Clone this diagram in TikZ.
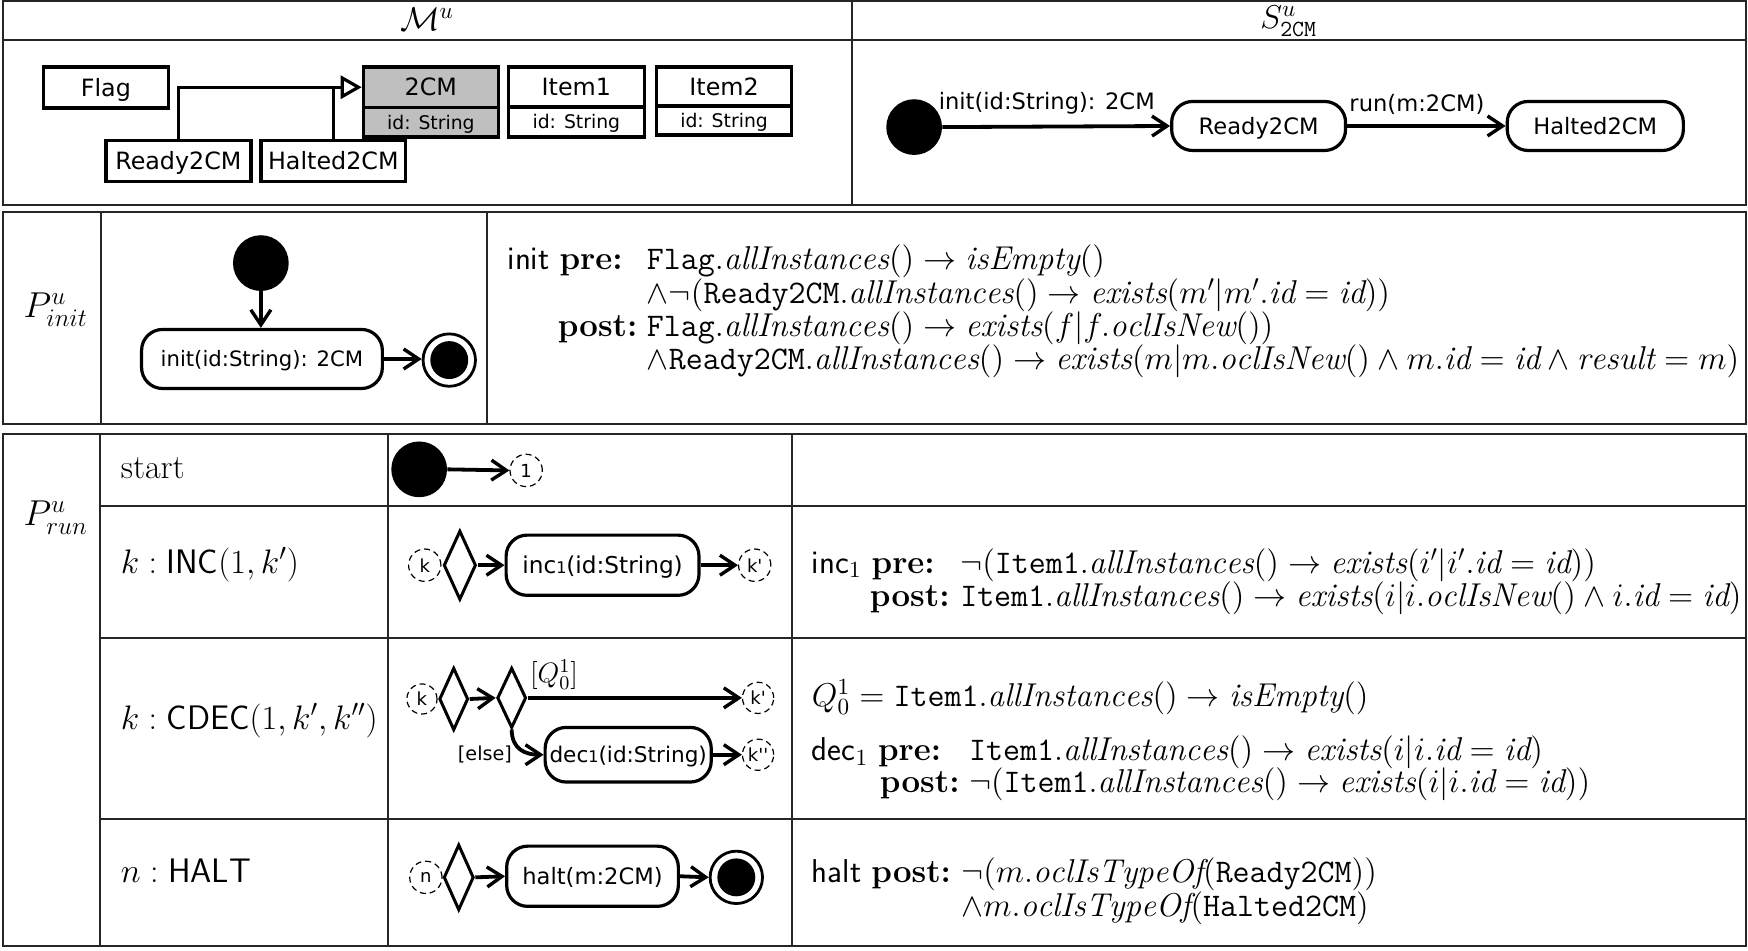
\RequirePackage{fix-cm}
\documentclass[tikz,border=0pt]{standalone}
\usepackage{fontspec}
\usetikzlibrary{arrows.meta,shapes.geometric}
\newfontfamily\lab{DejaVu Sans}
\def\uu{0.5574pt}
\newcommand{\ai}{\mathit{allInstances}()}
\newcommand{\mtt}[1]{\mathtt{#1}}
\newcommand{\ex}{\mathit{exists}}
\newcommand{\idd}{\mathit{id}}
\newcommand{\ssmall}[1]{{\fontsize{8}{8}\selectfont #1}}
\tikzset{
  grid/.style={draw=black!85,line width=1pt},
  mathtxt/.style={anchor=base west,inner sep=0pt,font=\fontsize{16.5}{20}\selectfont},
  lefttxt/.style={anchor=base west,inner sep=0pt,font=\fontsize{17}{20}\selectfont},
  mathmid/.style={anchor=center,inner sep=0pt,font=\fontsize{16.5}{20}\selectfont},
  rowname/.style={anchor=center,inner sep=0pt,font=\fontsize{18}{21}\selectfont},
  umlbox/.style={draw=black,line width=1.7pt,fill=white,inner sep=0pt,text height=8.6pt,text depth=0pt,font=\lab\fontsize{11.9}{14}\selectfont},
  attr/.style={umlbox,text height=6.9pt,font=\lab\fontsize{9.4}{12}\selectfont},
  statebox/.style={draw=black,line width=1.6pt,fill=white,rounded corners=10.5pt,inner sep=0pt,text height=8.2pt,text depth=0pt,font=\lab\fontsize{11.3}{14}\selectfont},
  startdot/.style={circle,fill=black,draw=none,inner sep=0pt,minimum size=50*\uu},
  finout/.style={circle,draw=black,line width=1.4pt,fill=white,inner sep=0pt,minimum size=47*\uu},
  finin/.style={circle,fill=black,inner sep=0pt,minimum size=34*\uu},
  ref/.style={circle,draw=black,densely dashed,line width=0.6pt,inner sep=0pt,minimum size=29*\uu,font=\lab\fontsize{9}{11}\selectfont},
  choice/.style={diamond,draw=black,line width=1.5pt,fill=white,inner sep=0pt,aspect=0.5},
  flow/.style={draw=black,line width=1.9pt,-{Straight Barb[length=7.5pt,width=10pt,line width=1.7pt]}},
  gen/.style={draw=black,line width=1.7pt},
  gentip/.style={gen,-{Triangle[open,length=10.5pt,width=11.5pt,line width=1.6pt]}},
  lbl/.style={inner sep=0pt,font=\lab\fontsize{11.3}{14}\selectfont},
  lblsm/.style={inner sep=0pt,font=\lab\fontsize{9.6}{11}\selectfont},
}
\begin{document}
\begin{tikzpicture}[x=\uu,y=-\uu]
\useasboundingbox (0,0) rectangle (1568,853);
% tables
\draw[grid] (3,1) rectangle (1566,184);
\draw[grid] (3,36) -- (1566,36);
\draw[grid] (764,1) -- (764,184);
\draw[grid] (3,190) rectangle (1566,380);
\draw[grid] (91,190) -- (91,380);
\draw[grid] (437,190) -- (437,380);
\draw[grid] (3,389) rectangle (1566,849);
\draw[grid] (90,389) -- (90,849);
\draw[grid] (348,389) -- (348,849);
\draw[grid] (710,389) -- (710,849);
\draw[grid] (90,454) -- (1566,454);
\draw[grid] (90,572) -- (1566,572);
\draw[grid] (90,735) -- (1566,735);
% headers
\node[mathmid] (hm) at (383,17) {$\mathcal{M}^u$};
\node[mathmid] (hs) at (1156,19) {$S^u_{\mathtt{2CM}}$};
% class diagram
\node[umlbox,minimum width=112*\uu,minimum height=37*\uu] (flag) at (95,78.5) {Flag};
\node[umlbox,fill=black!25,minimum width=121*\uu,minimum height=36.5*\uu] (cm) at (386.5,78.25) {2CM};
\node[attr,fill=black!25,minimum width=121*\uu,minimum height=26.5*\uu] (cma) at (386.5,109.75) {id: String};
\node[umlbox,minimum width=122*\uu,minimum height=36*\uu] (it1) at (517,78) {Item1};
\node[attr,minimum width=122*\uu,minimum height=27*\uu] (it1a) at (517,109.5) {id: String};
\node[umlbox,minimum width=121*\uu,minimum height=35*\uu] (it2) at (649.5,77.5) {Item2};
\node[attr,minimum width=121*\uu,minimum height=26*\uu] (it2a) at (649.5,108) {id: String};
\node[umlbox,minimum width=130*\uu,minimum height=37*\uu] (ready) at (160,144.5) {Ready2CM};
\node[umlbox,minimum width=130*\uu,minimum height=37*\uu] (halted) at (299,144.5) {Halted2CM};
\draw[gentip] (ready.north) |- (cm.west);
\draw[gen] (halted.north) -- (halted.north |- cm.west);
% state machine
\node[startdot] (s0) at (820,114) {};
\node[statebox,minimum width=156*\uu,minimum height=44*\uu] (sready) at (1129,113) {Ready2CM};
\node[statebox,minimum width=158*\uu,minimum height=44*\uu] (shalted) at (1431,113) {Halted2CM};
\draw[flow] (s0.east) -- (sready.west);
\draw[flow] (sready.east) -- (shalted.west);
\node[lbl] (linit) at (939,93) {init(id:String): 2CM};
\node[lbl] (lrun) at (1271,94) {run(m:2CM)};
% P init
\node[rowname] (pinit) at (50,278) {$P^u_{init}$};
\node[startdot] (i0) at (234,236) {};
\node[statebox,minimum width=216*\uu,minimum height=53*\uu,text height=7.8pt,font=\lab\fontsize{10.6}{13}\selectfont] (iact) at (235,322) {init(id:String): 2CM};
\node[finout] (ifin) at (403,323) {};
\node[finin] (ifinin) at (403,323) {};
\draw[flow] (i0.south) -- (i0.south |- iact.north);
\draw[flow] (iact.east) -- (ifin.west |- iact.east);
\node[mathtxt] (t1) at (455,242) {\textsf{init} \textbf{pre:}};
\node[mathtxt] (t1b) at (580,242) {$\mtt{Flag}.\ai\to \mathit{isEmpty}()$};
\node[mathtxt] (t2) at (580,272) {$\wedge\neg(\mtt{Ready2CM}.\ai\to \ex(m'|m'.\idd=\idd))$};
\node[mathtxt] (t3) at (500,302) {\textbf{post:}};
\node[mathtxt] (t3b) at (580,302) {$\mtt{Flag}.\ai\to \ex(f|f.\mathit{oclIsNew}())$};
\node[mathtxt] (t4) at (580,331) {$\wedge\mtt{Ready2CM}.\ai\to \ex(m|m.\mathit{oclIsNew}()\wedge m.\idd=\idd\wedge \mathit{result}=m)$};
% P run
\node[rowname] (prun) at (50,464) {$P^u_{run}$};
\node[lefttxt] (rstart) at (108,429) {start};
\node[lefttxt] (rinc) at (108,514) {$k:\mathsf{INC}(1,k')$};
\node[lefttxt] (rcdec) at (108,654) {$k:\mathsf{CDEC}(1,k',k'')$};
\node[lefttxt] (rhalt) at (108,792) {$n:\mathsf{HALT}$};
% start row
\node[startdot] (r0) at (376,421) {};
\node[ref] (r1) at (472,422) {1};
\draw[flow] (r0.east) -- (r1.west);
% inc row
\node[ref] (ik) at (381,507) {k};
\node[choice,minimum width=29*\uu,minimum height=62*\uu] (id) at (412.5,507) {};
\node[statebox,minimum width=173*\uu,minimum height=54*\uu,text height=8.6pt,font=\lab\fontsize{11.6}{14}\selectfont] (ia) at (540.5,507) {inc\ssmall{1}(id:String)};
\node[ref] (ikp) at (677,507) {k'};
\draw[flow] (id.east) -- (ia.west);
\draw[flow] (ia.east) -- (ikp.west);
% cdec row
\node[ref,minimum size=27*\uu] (ck) at (378.5,627) {k};
\node[choice,minimum width=26*\uu,minimum height=56*\uu] (cd1) at (407,627) {};
\node[choice,minimum width=26*\uu,minimum height=54*\uu] (cd2) at (459,626) {};
\node[ref,minimum size=28*\uu] (ckp) at (680,626) {k'};
\node[statebox,minimum width=149*\uu,minimum height=49*\uu,text height=8pt,font=\lab\fontsize{10.8}{14}\selectfont] (ca) at (563.5,677) {dec\ssmall{1}(id:String)};
\node[ref,minimum size=28*\uu] (ckpp) at (680,677) {k''};
\draw[flow] (cd1.east) -- (cd2.west);
\draw[flow] (cd2.east) -- (ckp.west);
\draw[flow] (cd2.south) .. controls +(0,18) and +(-16,0) .. (ca.west);
\draw[flow] (ca.east) -- (ckpp.west);
\node[lblsm] (lelse) at (435,677) {[else]};
\node[inner sep=0pt,font=\fontsize{14}{16}\selectfont] (lq) at (497,605) {$[Q^1_0]$};
% halt row
\node[ref] (hn) at (382,787) {n};
\node[choice,minimum width=27*\uu,minimum height=59*\uu] (hd) at (411.5,787) {};
\node[statebox,minimum width=154*\uu,minimum height=54*\uu] (ha) at (531.5,786) {halt(m:2CM)};
\node[finout] (hfin) at (660.5,787) {};
\node[finin] (hfinin) at (660.5,787) {};
\draw[flow] (hd.east) -- (ha.west);
\draw[flow] (ha.east) -- (hfin.west);
% right column
\node[mathtxt] (a1) at (728,514) {\textsf{inc}$_1$ \textbf{pre:}};
\node[mathtxt] (a1b) at (861,514) {$\neg(\mtt{Item1}.\ai\to \ex(i'|i'.\idd=\idd))$};
\node[mathtxt] (a2) at (780,544) {\textbf{post:}};
\node[mathtxt] (a2b) at (861,544) {$\mtt{Item1}.\ai\to \ex(i|i.\mathit{oclIsNew}()\wedge i.\idd=\idd)$};
\node[mathtxt] (b0) at (728,634) {$Q^1_0=\mtt{Item1}.\ai\to \mathit{isEmpty}()$};
\node[mathtxt] (b1) at (728,682) {\textsf{dec}$_1$ \textbf{pre:}};
\node[mathtxt] (b1b) at (869,682) {$\mtt{Item1}.\ai\to \ex(i|i.\idd=\idd)$};
\node[mathtxt] (b2) at (789,711) {\textbf{post:}};
\node[mathtxt] (b2b) at (869,711) {$\neg(\mtt{Item1}.\ai\to \ex(i|i.\idd=\idd))$};
\node[mathtxt] (c1) at (728,792) {\textsf{halt} \textbf{post:}};
\node[mathtxt] (c1b) at (862,792) {$\neg(m.\mathit{oclIsTypeOf}(\mtt{Ready2CM}))$};
\node[mathtxt] (c2) at (862,822) {$\wedge m.\mathit{oclIsTypeOf}(\mtt{Halted2CM})$};
\end{tikzpicture}
\end{document}
